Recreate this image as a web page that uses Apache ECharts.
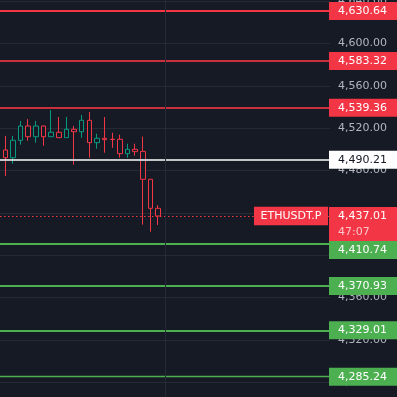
<!DOCTYPE html>
<html><head><meta charset="utf-8">
<script src="https://cdn.jsdelivr.net/npm/echarts@6/dist/echarts.min.js"></script>
<style>html,body{margin:0;padding:0;background:#161a25;overflow:hidden}#c{width:397px;height:397px}</style>
</head><body><div id="c"></div>
<script>
// ---- data ----
const opens  = [4499.4, 4492.1, 4508.5, 4522.0, 4511.9, 4522.0, 4511.9, 4516.1, 4511.0, 4518.9, 4516.6, 4527.4, 4506.3, 4510.4, 4509.5, 4509.5, 4495.9, 4500.0, 4498.1, 4471.7, 4444.3];
const closes = [4492.1, 4508.5, 4522.0, 4511.9, 4522.0, 4511.9, 4516.1, 4511.0, 4518.9, 4516.6, 4527.4, 4506.3, 4510.4, 4509.1, 4509.3, 4495.9, 4500.0, 4497.8, 4471.7, 4444.3, 4437.01];
const lows   = [4474.8, 4486.4, 4504.4, 4508.1, 4506.3, 4503.4, 4511.9, 4511.0, 4511.0, 4485.5, 4511.0, 4492.1, 4500.6, 4496.8, 4501.5, 4492.1, 4492.1, 4494.0, 4428.8, 4422.2, 4428.5];
const highs  = [4512.6, 4512.6, 4526.8, 4528.6, 4526.8, 4522.5, 4537.1, 4530.5, 4530.5, 4522.0, 4532.4, 4535.3, 4514.8, 4530.5, 4515.7, 4513.8, 4505.3, 4505.3, 4512.0, 4471.7, 4447.4];
const redLevels   = [4630.64, 4583.32, 4539.36];
const greenLevels = [4410.74, 4370.93, 4329.01, 4285.24];
const whiteLevel  = 4490.21;
const lastPrice   = 4437.01;
const symbolName  = 'ETHUSDT.P';
const countdown   = '47:07';
const yTickValues = [4280, 4320, 4360, 4400, 4440, 4480, 4520, 4560, 4600, 4640];
const yRange = [4266.08, 4641.03];   // visible price window
const xRange = [-0.694, 42.5];       // visible bar-index window
const nowIndex = 21;                 // vertical time grid line

// ---- styling ----
const BG = '#161a25', GRID = '#262a35', RED = '#f23645', RED2 = '#c9303d', GREEN = '#4caf50', TEAL = '#089981';
const FONT = '11px "DejaVu Sans"';
const fmt = v => v.toLocaleString('en-US', {minimumFractionDigits: 2, maximumFractionDigits: 2});

const candleData = opens.map((o, i) => [i, o, closes[i], lows[i], highs[i]]);

const lineData = [];
redLevels.forEach((v, i) => lineData.push({yAxis: v, lineStyle: {color: i === 0 ? RED : RED2, width: 2, type: 'solid'}}));
greenLevels.forEach((v, i) => lineData.push({yAxis: v, lineStyle: {color: GREEN, width: i === greenLevels.length - 1 ? 1.3 : 2, type: 'solid'}}));
lineData.push({yAxis: whiteLevel, lineStyle: {color: '#ffffff', width: 1.5, type: 'solid'}});
lineData.push({yAxis: lastPrice, lineStyle: {color: RED, width: 1, type: [1.5, 2.5]}});

const chart = echarts.init(document.getElementById('c'), null, {renderer: 'canvas'});
chart.setOption({
  animation: false,
  backgroundColor: BG,
  grid: {left: 0, right: 67, top: 0, bottom: 0, containLabel: false, outerBoundsMode: 'none'},
  xAxis: {type: 'value', min: xRange[0], max: xRange[1],
    axisLine: {show: false}, axisTick: {show: false}, axisLabel: {show: false}, splitLine: {show: false}},
  yAxis: {type: 'value', position: 'right', min: yRange[0], max: yRange[1],
    axisLine: {show: false},
    axisTick: {show: false, customValues: yTickValues},
    axisLabel: {color: '#b2b5be', fontSize: 11, fontFamily: 'DejaVu Sans', margin: 8, formatter: v => fmt(v), customValues: yTickValues},
    splitLine: {show: true, lineStyle: {color: GRID, width: 1}}},
  series: [{
    type: 'candlestick', data: candleData, encode: {x: 0, y: [1, 2, 3, 4]}, barWidth: 5,
    itemStyle: {color: BG, color0: BG, borderColor: TEAL, borderColor0: RED, borderWidth: 1},
    markLine: {silent: true, symbol: ['none', 'none'], label: {show: false}, animation: false, data: lineData}
  }, {
    type: 'line', data: [], silent: true, z: 0,
    markLine: {silent: true, symbol: ['none', 'none'], label: {show: false}, animation: false,
      data: [{xAxis: nowIndex, lineStyle: {color: GRID, width: 1, type: 'solid'}}]}
  }]
});

// ---- price tags (positions from the library's y scale) ----
const py = v => chart.convertToPixel({yAxisIndex: 0}, v);
const X0 = 329, TW = 70, TH = 18, TX = 338;
const g = [];
function tag(top, h, bg, fg, text) {
  g.push({type: 'rect', z: 100, shape: {x: X0, y: top, width: TW, height: h}, style: {fill: bg}});
  g.push({type: 'text', z: 101, x: TX, y: top + TH / 2, style: {text: text, fill: fg, font: FONT, align: 'left', verticalAlign: 'middle'}});
}
redLevels.forEach(v => tag(py(v) - TH / 2, TH, RED, '#ffffff', fmt(v)));
tag(py(whiteLevel) - TH / 2, TH, '#ffffff', '#131722', fmt(whiteLevel));
const ly = py(lastPrice);
const lastTop = ly - TH / 2, lastBottom = lastTop + 34;
tag(lastTop, 34, RED, '#ffffff', fmt(lastPrice));
g.push({type: 'text', z: 101, x: TX, y: lastTop + TH + 7, style: {text: countdown, fill: '#ffc4ca', font: FONT, align: 'left', verticalAlign: 'middle'}});
g.push({type: 'rect', z: 100, shape: {x: 254, y: ly - 9.3, width: 74, height: 18.6}, style: {fill: RED}});
g.push({type: 'text', z: 101, x: 291, y: ly, style: {text: symbolName, fill: '#ffffff', font: FONT, align: 'center', verticalAlign: 'middle'}});
let prevBottom = lastBottom;
greenLevels.forEach(v => {
  let top = py(v) - TH / 2;
  if (top < prevBottom) top = prevBottom;
  tag(top, TH, GREEN, '#ffffff', fmt(v));
  prevBottom = top + TH;
});
chart.setOption({graphic: {elements: g}});
</script>
</body></html>
